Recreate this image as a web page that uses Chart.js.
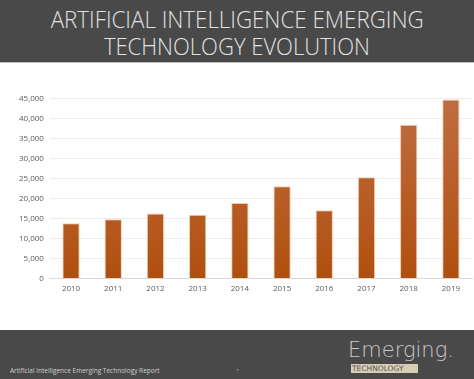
<!DOCTYPE html>
<html><head><meta charset="utf-8">
<script src="https://cdn.jsdelivr.net/npm/chart.js@4/dist/chart.umd.min.js"></script>
<style>
html,body{margin:0;padding:0;width:474px;height:379px;overflow:hidden;background:#fff;font-family:"Open Sans","Noto Sans",sans-serif;}
#hdr{position:absolute;left:0;top:0;width:474px;height:62px;background:#494949;border-bottom:1px solid #bdbdbd;}
.t{position:absolute;left:0;width:474px;text-align:center;color:#e2e2e2;font-size:23px;font-weight:300;white-space:nowrap;line-height:1;}
.t span{display:inline-block;transform-origin:center;}
#ftr{position:absolute;left:0;top:330px;width:474px;height:49px;background:#494949;}
#ftxt{position:absolute;left:10px;top:36px;font-size:6.5px;color:#cfcfcf;white-space:nowrap;}
#pg{position:absolute;left:236px;top:38px;font-size:5px;color:#999;}
#logo1{position:absolute;left:348px;top:10px;font-size:21px;color:#c9c9c9;font-weight:300;letter-spacing:0px;line-height:1;font-family:"DejaVu Sans","Open Sans",sans-serif;}
#logo2{position:absolute;left:351px;top:34px;height:9px;width:66px;background:#d8cdb5;color:#555;font-size:7.5px;line-height:9px;font-family:"DejaVu Sans",sans-serif;padding-left:1px;}
#wrap{position:absolute;left:0;top:88px;width:474px;height:212px;}
</style></head><body>
<div id="hdr">
<div class="t" style="top:8px"><span id="l1">ARTIFICIAL INTELLIGENCE EMERGING</span></div>
<div class="t" style="top:35px"><span id="l2">TECHNOLOGY EVOLUTION</span></div>
</div>
<div id="wrap"><canvas id="c" width="474" height="212"></canvas></div>
<div id="ftr">
<div id="ftxt">Artificial Intelligence Emerging Technology Report</div>
<div id="pg">7</div>
<div id="logo1">Emerging.</div>
<div id="logo2">TECHNOLOGY</div>
</div>
<script>
function fit(id,w){const e=document.getElementById(id);const r=e.getBoundingClientRect().width;e.style.transform='scaleX('+(w/r)+')';}
fit('l1',373);fit('l2',266);

const categories=['2010','2011','2012','2013','2014','2015','2016','2017','2018','2019'];
const values=[13800,14850,16250,15950,18900,23100,17100,25350,38500,44850];
const yTicks=[0,5000,10000,15000,20000,25000,30000,35000,40000,45000];

const ctx=document.getElementById('c').getContext('2d');
new Chart(ctx,{
 type:'bar',
 data:{labels:categories,datasets:[{data:values,
  backgroundColor:(c)=>{const ch=c.chart;const a=ch.chartArea;if(!a)return '#b85a22';
   const g=ch.ctx.createLinearGradient(0,a.top,0,a.bottom);g.addColorStop(0,'#bf6d42');g.addColorStop(1,'#b0500f');return g;},
  borderColor:'rgba(230,170,130,0.6)',borderWidth:{left:1,right:1,top:1,bottom:0},
  categoryPercentage:0.82,barPercentage:0.5}]},
 options:{responsive:false,animation:false,
  layout:{padding:{left:13,right:2,top:8,bottom:0}},
  plugins:{legend:{display:false},tooltip:{enabled:false}},
  scales:{
   x:{grid:{display:false,drawTicks:false},border:{color:'#d9d9d9'},
      ticks:{color:'#595959',font:{size:8,family:'"Open Sans",sans-serif'},padding:6}},
   y:{min:0,max:45000,afterBuildTicks:(s)=>{s.ticks=yTicks.map(v=>({value:v}));},
      grid:{color:'#ededed',drawTicks:false},border:{display:false},
      ticks:{color:'#595959',font:{size:8,family:'"Open Sans",sans-serif'},padding:6,
        callback:(v)=>v.toLocaleString('en-US')}}
  }}
});
</script>
</body></html>
